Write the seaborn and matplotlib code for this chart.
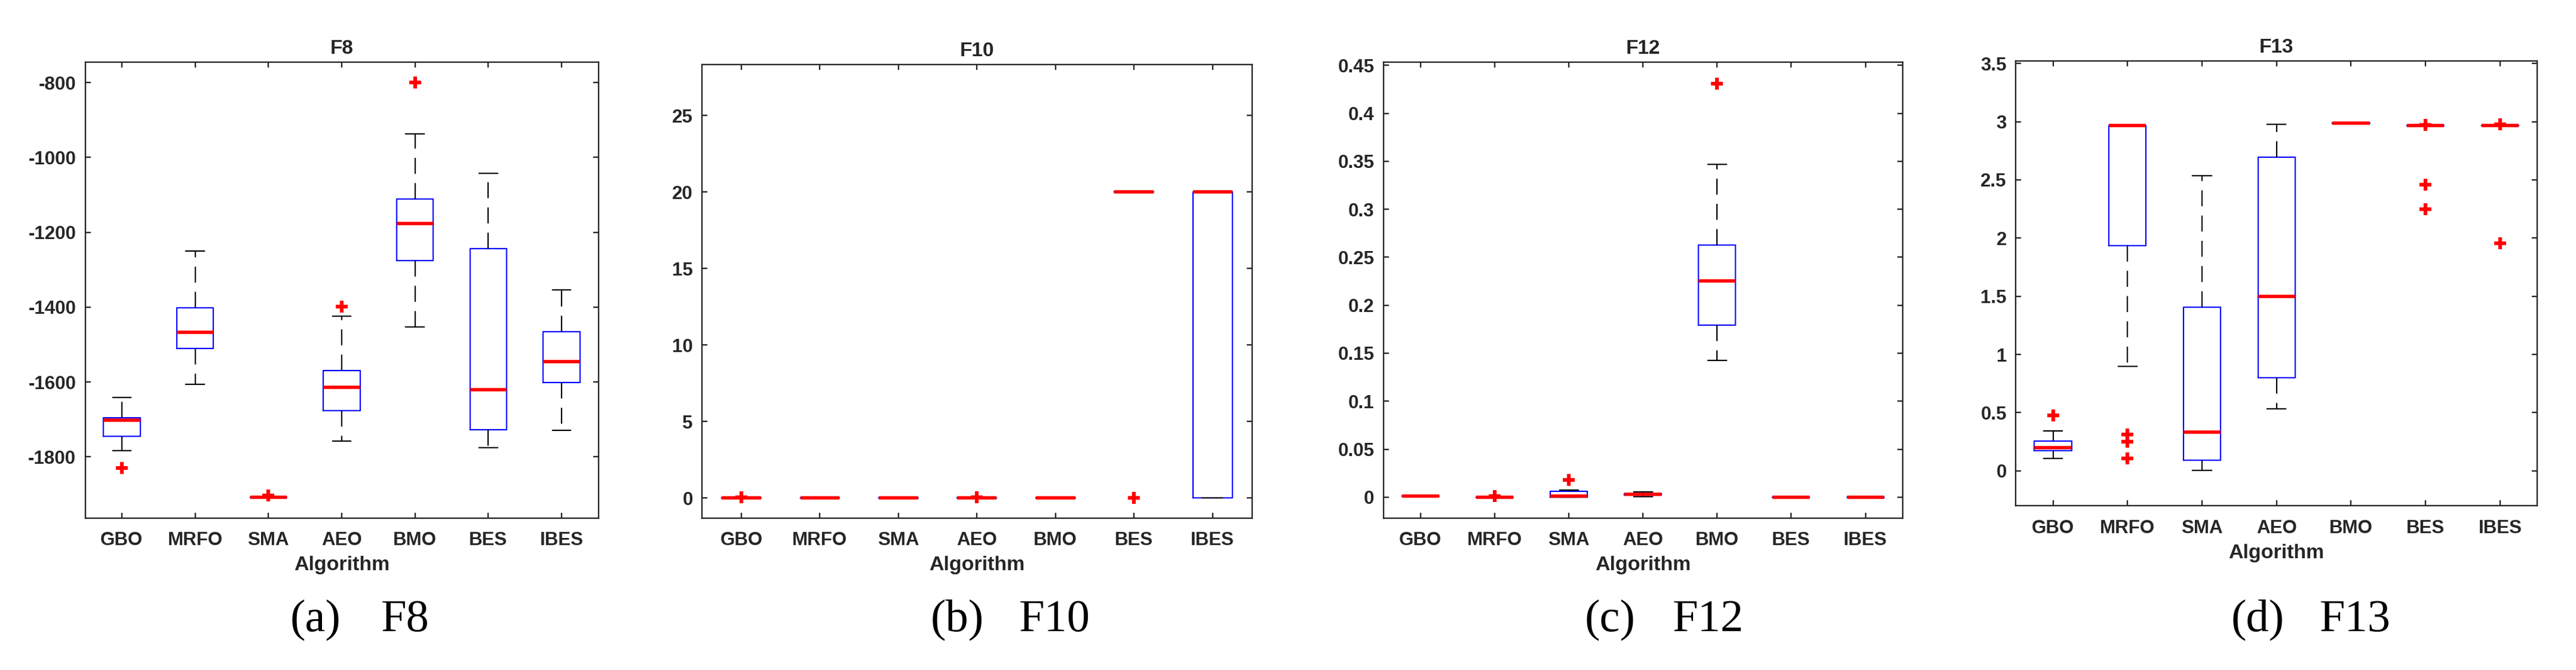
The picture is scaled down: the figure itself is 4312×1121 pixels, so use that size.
import numpy as np
import pandas as pd
import matplotlib
matplotlib.use("Agg")
import matplotlib.pyplot as plt
import seaborn as sns

# ---------------- data ----------------
algorithms = ["GBO", "MRFO", "SMA", "AEO", "BMO", "BES", "IBES"]

# samples chosen so that the box statistics (whiskers, quartiles, median, outliers)
# match what is drawn in the reference
f8_values = [
    [-1830, -1784, -1746, -1720, -1702, -1698, -1695, -1670, -1641],   # GBO
    [-1607, -1511, -1468, -1402, -1250],                               # MRFO
    [-1908, -1908, -1908, -1908, -1904],                               # SMA
    [-1758, -1700, -1677, -1640, -1614, -1590, -1569, -1425, -1399],   # AEO
    [-1453, -1300, -1276, -1220, -1177, -1140, -1111, -937, -800],     # BMO
    [-1776, -1728, -1620, -1243, -1042],                               # BES
    [-1730, -1601, -1545, -1466, -1354],                               # IBES
]
f10_values = [
    [0, 0, 0, 0, 0.05],
    [0, 0, 0, 0, 0],
    [0, 0, 0, 0, 0],
    [0, 0, 0, 0, 0.05],
    [0, 0, 0, 0, 0],
    [0, 20, 20, 20, 20],
    [0, 0, 20, 20, 20],
]
f12_values = [
    [0.0014, 0.0014, 0.0014, 0.0014, 0.0014],
    [0, 0, 0, 0, 0.001],
    [0, 0.0001, 0.0002, 0.0008, 0.0012, 0.004, 0.0063, 0.0076, 0.0178],
    [0.0006, 0.0023, 0.0030, 0.0038, 0.0055],
    [0.1425, 0.16, 0.1794, 0.20, 0.2254, 0.24, 0.2627, 0.3469, 0.4311],
    [0, 0, 0, 0, 0],
    [0, 0, 0, 0, 0],
]
f13_values = [
    [0.105, 0.15, 0.173, 0.19, 0.199, 0.22, 0.256, 0.343, 0.476],
    [0.105, 0.249, 0.314, 0.899, 1.935, 2.3, 2.7, 2.9, 2.967,
     2.967, 2.967, 2.967, 2.967, 2.967, 2.967, 2.967, 2.967],
    [0.004, 0.094, 0.332, 1.404, 2.534],
    [0.534, 0.798, 1.498, 2.697, 2.975],
    [2.986, 2.986, 2.986, 2.986, 2.986],
    [2.249, 2.458, 2.967, 2.967, 2.967, 2.967, 2.967, 2.967, 2.972],
    [1.957, 2.967, 2.967, 2.967, 2.975],
]

titles = ["F8", "F10", "F12", "F13"]
sub_letters = ["(a)", "(b)", "(c)", "(d)"]

f8_yticks = [-1800, -1600, -1400, -1200, -1000, -800]
f8_yticklabels = ["-1800", "-1600", "-1400", "-1200", "-1000", "-800"]
f10_yticks = [0, 5, 10, 15, 20, 25]
f10_yticklabels = ["0", "5", "10", "15", "20", "25"]
f12_yticks = [0, 0.05, 0.1, 0.15, 0.2, 0.25, 0.3, 0.35, 0.4, 0.45]
f12_yticklabels = ["0", "0.05", "0.1", "0.15", "0.2", "0.25", "0.3", "0.35", "0.4", "0.45"]
f13_yticks = [0, 0.5, 1, 1.5, 2, 2.5, 3, 3.5]
f13_yticklabels = ["0", "0.5", "1", "1.5", "2", "2.5", "3", "3.5"]

f8_ylim = (-1964, -745)
f10_ylim = (-1.32, 28.33)
f12_ylim = (-0.0219, 0.4535)
f13_ylim = (-0.30, 3.52)

# ---------------- layout / style ----------------
W, H = 4312, 1121
DPI = 100
TXT = "#262626"
plt.rcParams["axes.unicode_minus"] = False
plt.rcParams["font.family"] = ["Liberation Sans", "DejaVu Sans"]

fig = plt.figure(figsize=(W / DPI, H / DPI), dpi=DPI)

# axes boxes in pixels: left, top, right, bottom
boxes_px = [
    (142.5, 103.7, 1001.5, 867.0),
    (1175.2, 107.9, 2095.5, 867.0),
    (2315.7, 103.7, 3184.6, 867.0),
    (3374.2, 102.3, 4247.3, 846.3),
]
# subcaption positions: x of "(x)", x of "Fn", baseline y
subcap_px = [
    (486, 638, 1056),
    (1558, 1706, 1056),
    (2653, 2800, 1056),
    (3735, 3883, 1056),
]

values_all = [f8_values, f10_values, f12_values, f13_values]
yticks_all = [f8_yticks, f10_yticks, f12_yticks, f13_yticks]
ylabels_all = [f8_yticklabels, f10_yticklabels, f12_yticklabels, f13_yticklabels]
ylims_all = [f8_ylim, f10_ylim, f12_ylim, f13_ylim]

for k in range(4):
    l, t, r, b = boxes_px[k]
    ax = fig.add_axes([l / W, 1 - b / H, (r - l) / W, (b - t) / H])
    rows = []
    for alg, vals in zip(algorithms, values_all[k]):
        for v in vals:
            rows.append((alg, v))
    df = pd.DataFrame(rows, columns=["Algorithm", "value"])
    sns.boxplot(
        data=df, x="Algorithm", y="value", order=algorithms, ax=ax,
        width=0.5, fill=False, whis=1.5, color="blue",
        boxprops=dict(color="blue", linewidth=1.6),
        medianprops=dict(color="red", linewidth=4.0),
        whiskerprops=dict(color="black", linewidth=1.6, linestyle=(0, (12, 7))),
        capprops=dict(color="black", linewidth=1.6),
        flierprops=dict(marker="+", markeredgecolor="red", markerfacecolor="red",
                        markersize=14, markeredgewidth=4.5),
    )
    ax.set_xlim(-0.5, 6.5)
    ax.set_ylim(*ylims_all[k])
    ax.set_yticks(yticks_all[k])
    ax.set_yticklabels(ylabels_all[k])
    ax.set_ylabel("")
    ax.set_xlabel("Algorithm", fontsize=24.5, fontweight="bold", color=TXT, labelpad=8)
    ax.set_title(titles[k], fontsize=24, fontweight="bold", color=TXT, pad=10)
    ax.tick_params(axis="both", which="both", direction="in", top=True, right=True,
                   length=6.5, width=1.7, color=TXT, labelcolor=TXT, labelsize=22.5)
    ax.tick_params(axis="x", pad=16)
    ax.tick_params(axis="y", pad=11)
    for lab in ax.get_xticklabels() + ax.get_yticklabels():
        lab.set_fontweight("bold")
    for sp in ax.spines.values():
        sp.set_color(TXT)
        sp.set_linewidth(1.7)
    ax.grid(False)

    x1, x2, yb = subcap_px[k]
    fig.text(x1 / W, 1 - yb / H, sub_letters[k], fontsize=55,
             family=["Liberation Serif", "DejaVu Serif"], va="baseline", ha="left", color="black")
    fig.text(x2 / W, 1 - yb / H, titles[k], fontsize=55,
             family=["Liberation Serif", "DejaVu Serif"], va="baseline", ha="left", color="black")

fig.savefig("out.png", dpi=DPI)
